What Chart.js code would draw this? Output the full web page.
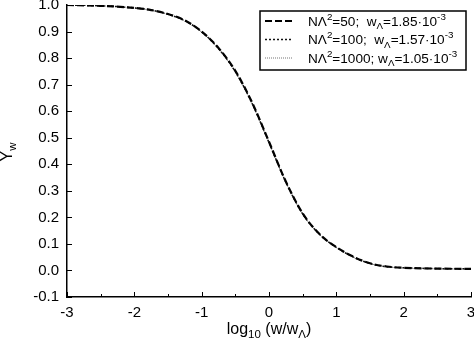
<!DOCTYPE html>
<html>
<head>
<meta charset="utf-8">
<script src="https://cdn.jsdelivr.net/npm/chart.js@4"></script>
<style>
  html, body { margin: 0; padding: 0; background: #fff; }
  #wrap { width: 474px; height: 344px; position: relative; }
</style>
</head>
<body>
<div id="wrap"><canvas id="chart"></canvas></div>
<script>
// data
const logW = [-3, -2.5, -2, -1.75, -1.5, -1.25, -1, -0.75, -0.5, -0.25, 0, 0.25, 0.5, 0.75, 1, 1.25, 1.5, 1.75, 2, 2.5, 3];
const yN50   = [1.0, 0.997, 0.989, 0.981, 0.966, 0.942, 0.9, 0.838, 0.752, 0.632, 0.485, 0.335, 0.215, 0.137, 0.088, 0.052, 0.027, 0.015, 0.01, 0.007, 0.006];
const yN100  = [1.0, 0.997, 0.989, 0.981, 0.965, 0.941, 0.899, 0.836, 0.749, 0.629, 0.482, 0.333, 0.213, 0.136, 0.087, 0.051, 0.026, 0.014, 0.01, 0.007, 0.006];
const yN1000 = [1.0, 0.997, 0.989, 0.980, 0.964, 0.940, 0.897, 0.834, 0.747, 0.626, 0.479, 0.331, 0.212, 0.135, 0.086, 0.05, 0.026, 0.014, 0.009, 0.006, 0.005];
const seriesLabels = [
  "NΛ^{2}=50;  w_{Λ}=1.85·10^{-3}",
  "NΛ^{2}=100;  w_{Λ}=1.57·10^{-3}",
  "NΛ^{2}=1000; w_{Λ}=1.05·10^{-3}"
];
const xTitle = "log_{10} (w/w_{Λ})";
const yTitle = "Y_{w}";

const FONT = "'Liberation Sans', Arial, sans-serif";

// draw text with ^{..} superscripts and _{..} subscripts
function richText(ctx, str, x, y, size, align) {
  const parts = [];
  const re = /([_^])\{([^}]*)\}|([^_^]+)/g;
  let m;
  while ((m = re.exec(str)) !== null) {
    if (m[3]) parts.push({ t: m[3], s: size, dy: 0 });
    else parts.push({ t: m[2], s: size * 0.72, dy: m[1] === '^' ? -size * 0.38 : size * 0.32 });
  }
  let total = 0;
  parts.forEach(p => {
    ctx.font = p.s + "px " + FONT;
    p.w = ctx.measureText(p.t).width;
    total += p.w;
  });
  let cx = align === 'center' ? x - total / 2 : x;
  ctx.textBaseline = 'middle';
  ctx.textAlign = 'left';
  parts.forEach(p => {
    ctx.font = p.s + "px " + FONT;
    ctx.fillText(p.t, cx, y + p.dy);
    cx += p.w;
  });
}

const decorations = {
  id: 'decorations',
  afterDraw(chart) {
    const ctx = chart.ctx;
    const xs = chart.scales.x, ys = chart.scales.y;
    const area = chart.chartArea;
    ctx.save();
    ctx.strokeStyle = '#000';
    ctx.fillStyle = '#000';
    ctx.lineWidth = 1;
    ctx.setLineDash([]);

    // inward tick marks
    ctx.beginPath();
    for (let v = -3; v <= 3; v += 0.5) {
      const px = Math.round(xs.getPixelForValue(v)) + 0.5;
      const len = Number.isInteger(v) ? 5 : 3;
      ctx.moveTo(px, area.bottom);
      ctx.lineTo(px, area.bottom - len);
    }
    ys.ticks.forEach(t => {
      const py = Math.round(ys.getPixelForValue(t.value)) + 0.5;
      ctx.moveTo(area.left, py);
      ctx.lineTo(area.left + 5, py);
    });
    ctx.stroke();

    // axis titles
    richText(ctx, xTitle, (area.left + area.right) / 2, 330, 16, 'center');
    ctx.save();
    ctx.translate(8, 152);
    ctx.rotate(-Math.PI / 2);
    richText(ctx, yTitle, 0, 0, 16, 'center');
    ctx.restore();

    // legend box
    const bx = 260, by = 11, bw = 206, bh = 59;
    ctx.fillStyle = '#fff';
    ctx.fillRect(bx, by, bw, bh);
    ctx.lineWidth = 1.5;
    ctx.strokeRect(bx, by, bw, bh);
    chart.data.datasets.forEach((ds, i) => {
      const ly = by + 10 + i * 18.5;
      ctx.beginPath();
      ctx.strokeStyle = ds.borderColor;
      ctx.lineWidth = ds.borderWidth;
      ctx.setLineDash(ds.borderDash);
      ctx.moveTo(bx + 5, ly);
      ctx.lineTo(bx + 33, ly);
      ctx.stroke();
      ctx.setLineDash([]);
      ctx.fillStyle = '#000';
      richText(ctx, ds.label, bx + 48, ly + 1, 13.6, 'left');
    });
    ctx.restore();
  }
};

function makeSeries(ys) {
  return logW.map((x, i) => ({ x: x, y: ys[i] }));
}

const ctx = document.getElementById('chart');
new Chart(ctx, {
  type: 'line',
  data: {
    datasets: [
      { label: seriesLabels[0], data: makeSeries(yN50), borderColor: '#000', borderWidth: 2.2, borderDash: [7, 3] },
      { label: seriesLabels[1], data: makeSeries(yN100), borderColor: '#111', borderWidth: 1.5, borderDash: [2, 2] },
      { label: seriesLabels[2], data: makeSeries(yN1000), borderColor: '#777', borderWidth: 1, borderDash: [1, 1] }
    ]
  },
  options: {
    responsive: true,
    maintainAspectRatio: false,
    animation: false,
    layout: { padding: { top: 5, right: 3, left: 0, bottom: 0 } },
    elements: {
      point: { radius: 0 },
      line: { cubicInterpolationMode: 'monotone', fill: false }
    },
    plugins: {
      legend: { display: false },
      tooltip: { enabled: false }
    },
    scales: {
      x: {
        type: 'linear',
        min: -3, max: 3,
        ticks: { stepSize: 1, color: '#000', padding: 7, font: { family: FONT, size: 15 } },
        grid: { display: false, drawTicks: false },
        border: { display: true, color: '#000', width: 1.5 },
        afterFit: s => { s.height = 47; s.paddingLeft = 0; s.paddingRight = 0; }
      },
      y: {
        min: -0.1, max: 1.0,
        ticks: { stepSize: 0.1, color: '#000', padding: 8, font: { family: FONT, size: 15 },
                 callback: v => v.toFixed(1) },
        grid: { display: false, drawTicks: false },
        border: { display: true, color: '#000', width: 1.5 },
        afterFit: s => { s.width = 67; s.paddingTop = 0; s.paddingBottom = 0; }
      }
    }
  },
  plugins: [decorations]
});
</script>
</body>
</html>
